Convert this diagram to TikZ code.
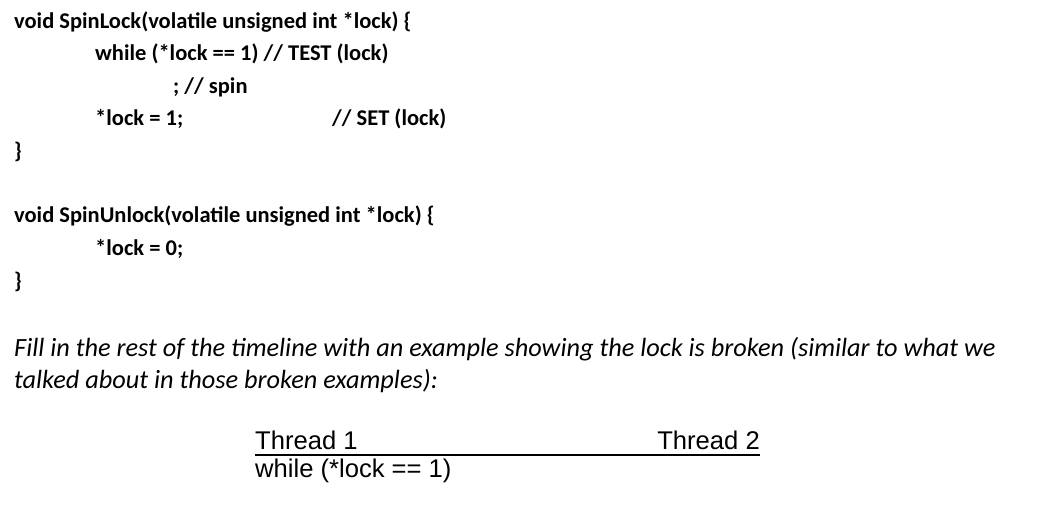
\documentclass[tikz,border=0pt]{standalone}
\usepackage{fontspec}
\setmainfont{Carlito}
\newfontfamily\arialf{Liberation Sans}
\begin{document}
\begin{tikzpicture}[x=1pt,y=-1pt,
 code/.style={anchor=west,inner sep=0pt,font=\fontsize{22.5}{24}\selectfont\bfseries},
 note/.style={anchor=west,inner sep=0pt,font=\fontsize{26.3}{28}\selectfont\itshape},
 thr/.style={anchor=west,inner sep=0pt,font=\arialf\fontsize{25.6}{28}\selectfont}]
\useasboundingbox[fill=white] (0,0) rectangle (1038,506);
\node[code] (l1) at (14,22) {void SpinLock(volatile unsigned int *lock) \{};
\node[code] (l2) at (95,54) {while (*lock == 1) // TEST (lock)};
\node[code] (l3) at (173,87) {; // spin};
\node[code] (l4) at (95,119) {*lock = 1;};
\node[code] (l4b) at (332,119) {// SET (lock)};
\node[code] (l5) at (14,152) {\}};
\node[code] (u1) at (14,216) {void SpinUnlock(volatile unsigned int *lock) \{};
\node[code] (u2) at (95,249) {*lock = 0;};
\node[code] (u3) at (14,282) {\}};
\node[note] (n1) at (14,349) {Fill in the rest of the timeline with an example showing the lock is broken (similar to what we};
\node[note] (n2) at (14,381) {talked about in those broken examples):};
\node[thr] (t1) at (255,440) {Thread 1};
\node[thr,anchor=east] (t2) at (760,440) {Thread 2};
\coordinate (la) at (255,455);
\coordinate (lb) at (760,455);
\draw[line width=1.2pt] (la) -- (lb);
\node[thr] (w) at (255,471) {while (*lock == 1)};
\end{tikzpicture}
\end{document}
